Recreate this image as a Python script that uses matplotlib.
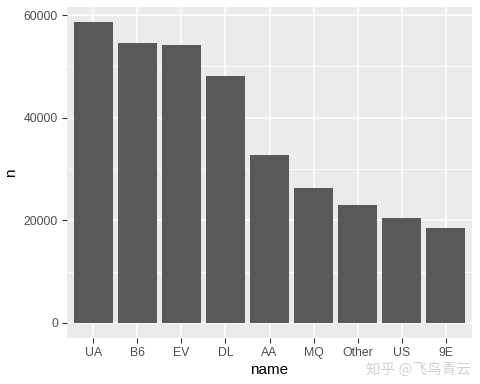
import matplotlib
matplotlib.use("Agg")
import matplotlib.pyplot as plt
from matplotlib.ticker import MultipleLocator

names = ["UA", "B6", "EV", "DL", "AA", "MQ", "Other", "US", "9E"]
counts = [58665, 54635, 54173, 48110, 32729, 26397, 23071, 20536, 18460]
yticks = [0, 20000, 40000, 60000]

fig = plt.figure(figsize=(4.8, 3.84), dpi=100)
fig.patch.set_facecolor("white")
ax = fig.add_axes([67/480, 46/384, (472-67)/480, (338-7)/384])
ax.set_facecolor("#EBEBEB")
x = list(range(1, len(names) + 1))
ax.bar(x, counts, width=0.9, color="#595959", zorder=3)
ax.set_xlim(0.4, len(names) + 0.6)
ymax = max(counts)
ax.set_ylim(-0.05 * ymax, 1.05 * ymax)
ax.set_xticks(x)
ax.set_xticklabels(names)
ax.set_yticks(yticks)
ax.set_yticklabels([str(v) for v in yticks])
ax.yaxis.set_minor_locator(MultipleLocator(10000))
ax.grid(which="major", color="white", linewidth=1.1, zorder=0)
ax.grid(which="minor", axis="y", color="white", linewidth=0.55, zorder=0)
ax.tick_params(axis="x", which="minor", bottom=False)
ax.tick_params(which="major", length=3.5, width=0.8, color="#333333",
               labelcolor="#4D4D4D", labelsize=8.8, pad=3)
ax.tick_params(which="minor", length=0)
for s in ax.spines.values():
    s.set_visible(False)
for lab in ax.get_xticklabels() + ax.get_yticklabels():
    lab.set_fontfamily("Liberation Sans")
ax.set_xlabel("name", fontsize=11, fontfamily="Liberation Sans", labelpad=3)
ax.set_ylabel("n", fontsize=11, fontfamily="Liberation Sans", labelpad=4)
fig.text(0.98, 0.038, "知乎 @飞鸟青云", ha="right", va="center", fontsize=10.5,
         color="#D2D2D2", family=["Noto Sans CJK SC", "DejaVu Sans"])
fig.savefig("out.png", dpi=100)
